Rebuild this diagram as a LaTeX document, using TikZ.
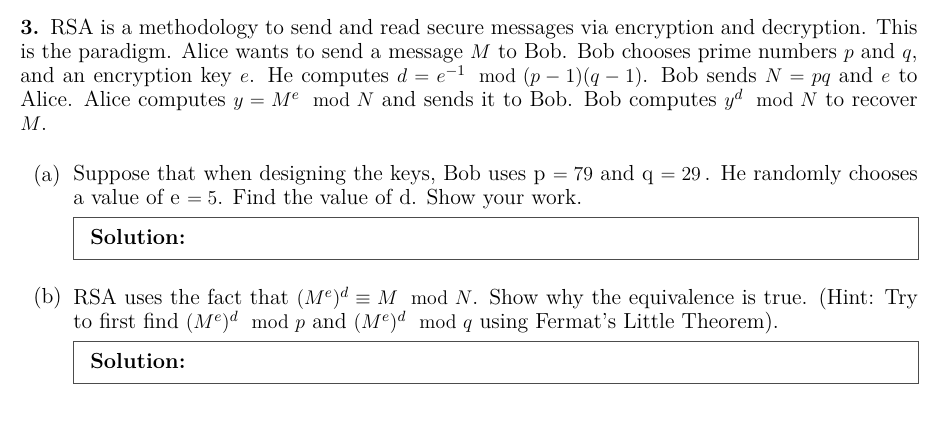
\documentclass[tikz,border=0pt]{standalone}
\usepackage{amsmath}
\begin{document}
\begin{tikzpicture}[x=0.6063pt,y=-0.6063pt,
  para/.style={anchor=north west,inner sep=0pt,align=justify,font=\fontsize{13.2}{14.55}\selectfont},
  solbox/.style={draw=black!70,line width=0.6pt},
  lbl/.style={anchor=north west,inner sep=0pt,font=\fontsize{13.2}{14.55}\selectfont}]
\useasboundingbox (0,0) rectangle (942,422);
\node[para,text width=544pt] (p1) at (20,19) {\textbf{3.}\enspace RSA is a methodology to send and read secure messages via encryption and decryption. This is the paradigm. Alice wants to send a message $M$ to Bob. Bob chooses prime numbers $p$ and $q$, and an encryption key $e$. He computes $d=e^{-1}\mod (p-1)(q-1)$. Bob sends $N=pq$ and $e$ to Alice. Alice computes $y=M^e\mod N$ and sends it to Bob. Bob computes $y^d\mod N$ to recover $M$.\par};
\node[lbl] (la) at (33,165) {(a)};
\node[para,text width=512pt] (pa) at (73,165) {Suppose that when designing the keys, Bob uses p $=79$ and q $=29$\,. He randomly chooses a value of e $=5$. Find the value of d. Show your work.\par};
\draw[solbox] (73,217) rectangle (918,259);
\node[lbl,font=\fontsize{13.2}{14.55}\selectfont\bfseries] (sa) at (90,229) {Solution:};
\node[lbl] (lb) at (33,287) {(b)};
\node[para,text width=512pt] (pb) at (73,287) {RSA uses the fact that $(M^e)^d\equiv M\mod N$. Show why the equivalence is true. (Hint: Try to first find $(M^e)^d\mod p$ and $(M^e)^d\mod q$ using Fermat's Little Theorem).\par};
\draw[solbox] (73,341) rectangle (918,383);
\node[lbl,font=\fontsize{13.2}{14.55}\selectfont\bfseries] (sb) at (90,353) {Solution:};
\end{tikzpicture}
\end{document}
